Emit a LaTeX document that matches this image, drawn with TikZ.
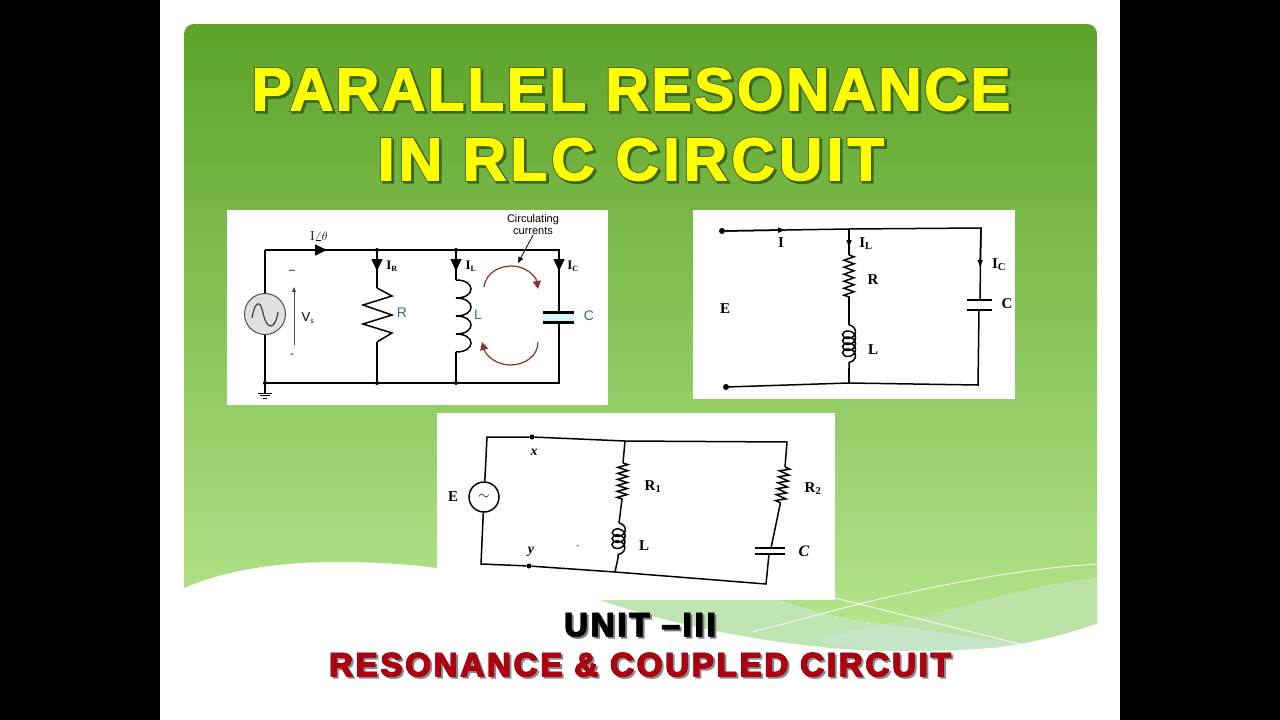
\documentclass[tikz,border=0pt]{standalone}
\usepackage{fontspec}
\usetikzlibrary{arrows.meta,decorations.pathmorphing,calc}
\newfontfamily\labelsans{Liberation Sans}
\newfontfamily\tagserif{Liberation Serif}
\newfontface\headface[FakeBold=2.5]{Liberation Sans Bold}
\newfontface\headedge[FakeBold=5]{Liberation Sans Bold}
\newfontface\subface[LetterSpace=8.5,FakeBold=3]{Liberation Sans Bold}
\newfontface\subedge[LetterSpace=8.5,FakeBold=4]{Liberation Sans Bold}
\definecolor{panelTop}{HTML}{5DA329}
\definecolor{panelMid}{HTML}{80B958}
\definecolor{panelEnd}{HTML}{B4E48A}
\definecolor{paleA}{HTML}{BFE5B3}
\definecolor{paleB}{HTML}{BBE3A8}
\definecolor{paleC}{HTML}{C6E6C8}
\definecolor{partBlue}{HTML}{2F6F9F}
\definecolor{turnRed}{HTML}{8B2E2E}
\definecolor{headYellow}{HTML}{FFFF00}
\definecolor{headEdge}{HTML}{3D5A10}
\definecolor{headShade}{HTML}{3A6A1E}
\definecolor{topicRed}{HTML}{B00010}
\definecolor{topicEdge}{HTML}{5A0008}
\newcommand{\layertext}[8]{%
  \node[anchor=base,text=#5] (#1s) at ($(#2)+(2,2)$) {#4#8};
  \node[anchor=base,text=#6] (#1e) at (#2) {#4#8};
  \node[anchor=base,text=#7] (#1) at (#2) {#3#8};
}
\tikzset{
  wire/.style={draw=black,line width=1.5pt},
  flow/.style={wire,-{Triangle[length=12,width=11]}},
  smallflow/.style={wire,-{Triangle[length=7,width=5]}},
  zig/.style={wire,decorate,decoration={zigzag,segment length=#1}},
  zig/.default=7,
  loops/.style={wire,decorate,decoration={coil,aspect=0.8,segment length=6,amplitude=6.5}},
  plate/.style={draw=black,line width=1.5pt},
  term/.style={circle,fill=black,inner sep=0pt,minimum size=6},
  part/.style={text=partBlue,font=\labelsans\fontsize{14}{14}\selectfont},
  tag/.style={font=\tagserif\fontsize{15}{15}\selectfont\bfseries},
  flowtag/.style={font=\tagserif\fontsize{13}{13}\selectfont\bfseries},
  turn/.style={draw=turnRed,line width=1.2pt,-{Triangle[length=8,width=8]}},
  photo/.style={fill=white,draw=none}
}
\begin{document}
\begin{tikzpicture}[x=1pt,y=-1pt]
  \useasboundingbox (0,0) rectangle (1280,720);
  \fill[white] (0,0) rectangle (1280,720);
  \fill[black] (0,0) rectangle (160,720);
  \fill[black] (1120,0) rectangle (1280,720);
  % green panel
  \shade[top color=panelTop,middle color=panelMid,bottom color=panelEnd,rounded corners=10]
    (184,588) -- (184,24) -- (1097,24) [sharp corners] -- (1097,578)
    .. controls (1000,590) and (930,620) .. (883,624)
    .. controls (850,622) and (810,610) .. (777,600)
    -- (700,590) -- (437,568)
    .. controls (400,563) and (365,562) .. (333,562)
    .. controls (280,562) and (225,570) .. (184,588) -- cycle;
  \fill[paleA] (600,600) .. controls (680,628) and (800,651) .. (900,651)
    .. controls (970,651) and (1050,640) .. (1097,623) -- (1097,578)
    .. controls (1000,590) and (930,620) .. (883,624)
    .. controls (850,622) and (810,610) .. (777,600) -- cycle;
  \fill[paleB] (883,624) -- (1020,644) .. controls (1050,638) and (1075,632) .. (1097,623)
    -- (1097,578) .. controls (1000,590) and (930,620) .. (883,624) -- cycle;
  \fill[paleC] (883,624) -- (1020,644) .. controls (990,650) and (940,651) .. (900,651)
    .. controls (870,651) and (840,646) .. (813,640) -- cycle;
  \draw[white,line width=0.8pt] (752,632) -- (863,603) .. controls (950,582) and (1030,568) .. (1097,564);
  \draw[white,line width=0.8pt] (835,598) -- (1020,644);
  % headings
  \coordinate (headA) at (631,110);
  \coordinate (headB) at (631,180);
  \coordinate (unitA) at (640,636);
  \coordinate (unitB) at (640,676);
  \layertext{titleA}{headA}{\headface\addfontfeature{LetterSpace=4.5}\fontsize{60}{60}\selectfont}{\headedge\addfontfeature{LetterSpace=4.5}\fontsize{60}{60}\selectfont}{headShade}{headEdge}{headYellow}{PARALLEL RESONANCE}
  \layertext{titleB}{headB}{\headface\addfontfeature{LetterSpace=7}\fontsize{60}{60}\selectfont}{\headedge\addfontfeature{LetterSpace=7}\fontsize{60}{60}\selectfont}{headShade}{headEdge}{headYellow}{IN RLC CIRCUIT}
  \layertext{unit}{unitA}{\subface\fontsize{33}{33}\selectfont}{\subedge\fontsize{33}{33}\selectfont}{black!50}{black}{black}{UNIT –III}
  \layertext{topic}{unitB}{\subface\fontsize{33}{33}\selectfont}{\subedge\fontsize{33}{33}\selectfont}{black!45}{topicEdge}{topicRed}{RESONANCE \& COUPLED CIRCUIT}
  % photo frames
  \fill[photo] (227,210) rectangle (608,405);
  \fill[photo] (693,210) rectangle (1015,399);
  \fill[photo] (437,413) rectangle (835,600);
  % first circuit
  \coordinate (aTL) at (265,250);
  \coordinate (aTR) at (377,250);
  \coordinate (aTL2) at (456,250);
  \coordinate (aTC) at (559,250);
  \coordinate (aBL) at (265,383);
  \coordinate (aBR) at (377,383);
  \coordinate (aBL2) at (456,383);
  \coordinate (aBC) at (559,383);
  \coordinate (aGnd) at (265,393);
  \coordinate (aIs) at (327,250);
  \coordinate (aIR) at (377,271);
  \coordinate (aIL) at (456,271);
  \coordinate (aIC) at (559,271);
  \coordinate (aRt) at (377,288);
  \coordinate (aRb) at (377,342);
  \coordinate (aLt) at (456,280);
  \coordinate (aLb) at (456,352);
  \node[circle,draw=black!70,line width=1pt,fill=blue!8!black!12,minimum size=41,inner sep=0pt] (aVs) at (265,314) {};
  \draw[wire] (aTL) -- (aTC) -- (aBC) -- (aBL) -- (aVs) -- (aTL);
  \draw[wire] (aBL) -- (aGnd);
  \draw[wire,line width=1pt] (258,393) -- (272,393) (260,395.5) -- (270,395.5) (263,398) -- (267,398);
  \draw[black!75,line width=1.2pt] (252,318) .. controls (254,306) and (257,303) .. (259,304)
    .. controls (263,304) and (263,326) .. (271,326) .. controls (274,326) and (277,320) .. (278,312);
  \draw[flow] (aTL) -- (aIs);
  \draw[flow] (aTR) -- (aIR);
  \draw[flow] (aTL2) -- (aIL);
  \draw[flow] (aTC) -- (aIC);
  \draw[wire] (aTR) -- (aRt) (aRb) -- (aBR);
  \draw[wire] (aRt) -- (392,296) -- (363,305) -- (392,315) -- (363,324) -- (392,333) -- (aRb);
  \draw[wire] (aTL2) -- (aLt) (aLb) -- (aBL2);
  \draw[wire] (aLt) \foreach \i in {1,...,4} { .. controls +(20,0) and +(20,0) .. ++(0,18)};
  \fill[cyan!15] (543,312) rectangle (574,322);
  \draw[black,line width=3pt] (543,312) -- (574,312) (543,322) -- (574,322);
  \foreach \j in {aTR,aTL2,aBL,aBR,aBL2} \fill (\j) circle (2);
  \draw[black!70,line width=0.9pt,-{Triangle[length=5,width=4]}] (294,345) -- (294,287);
  \node[font=\fontsize{13}{13}\selectfont] (aAngle) at (319,236) {$\mathrm{I}\angle\theta$};
  \node[font=\labelsans\fontsize{11}{11}\selectfont] (aPlus) at (292,272) {–};
  \node[font=\labelsans\fontsize{11}{11}\selectfont] (aMinus) at (292,356) {-};
  \node[font=\labelsans\fontsize{13}{13}\selectfont] (aVb) at (308,318) {V\textsubscript{\fontsize{7}{7}\selectfont s}};
  \node[flowtag] (aRn) at (392,266) {I\textsubscript{\fontsize{8}{8}\selectfont R}};
  \node[flowtag] (aLn) at (471,266) {I\textsubscript{\fontsize{8}{8}\selectfont L}};
  \node[flowtag] (aCn) at (573,266) {I\textsubscript{\fontsize{8}{8}\selectfont C}};
  \node[part] (aR) at (402,313) {R};
  \node[part] (aL) at (478,315) {L};
  \node[part] (aC) at (589,316) {C};
  \node[align=center,inner sep=0pt,font=\labelsans\fontsize{11}{12}\selectfont] (aNote) at (533,225) {Circulating\\currents};
  \coordinate (aPt) at (518,263);
  \draw[black,line width=0.8pt,-{Triangle[length=6,width=5]}] (aNote.south) -- (aPt);
  \draw[turn] (484,287) .. controls (486,272) and (500,266) .. (512,266) .. controls (525,266) and (536,276) .. (538,289);
  \draw[turn] (538,342) .. controls (538,356) and (525,365) .. (510,365) .. controls (497,365) and (486,356) .. (482,342);
  % second circuit
  \node[term] (bA) at (722,231) {};
  \node[term] (bB) at (726,387) {};
  \coordinate (bTJ) at (849,229);
  \coordinate (bBJ) at (849,383);
  \coordinate (bTR) at (981,228);
  \coordinate (bBR) at (978,385);
  \coordinate (bIs) at (785,230);
  \coordinate (bIL) at (849,247);
  \coordinate (bIC) at (980,267);
  \coordinate (bRt) at (849,255);
  \coordinate (bRb) at (849,298);
  \coordinate (bLt) at (849,325);
  \coordinate (bLb) at (849,368);
  \coordinate (bCt) at (980,300);
  \coordinate (bCb) at (979,310);
  \draw[wire] (bA) -- (bTJ) -- (bTR) -- (bCt) (bCb) -- (bBR) -- (bBJ) -- (bB);
  \draw[wire] (bTJ) -- (bRt) (bRb) -- (bLt) (bLb) -- (bBJ);
  \draw[smallflow] (bA) -- (bIs);
  \draw[smallflow] (bTJ) -- (bIL);
  \draw[smallflow] (bTR) -- (bIC);
  \draw[zig=7,decoration={amplitude=5}] (bRt) -- (bRb);
  \draw[loops] (bLt) -- (bLb);
  \draw[plate] (967,300) -- (992,300) (967,310) -- (992,310);
  \node[tag] (bI) at (781,243) {I};
  \node[tag] (bILn) at (866,244) {I\textsubscript{L}};
  \node[tag] (bICn) at (999,265) {I\textsubscript{C}};
  \node[tag] (bR) at (873,280) {R};
  \node[tag] (bL) at (873,350) {L};
  \node[tag] (bC) at (1007,304) {C};
  \node[tag] (bE) at (725,309) {E};
  % third circuit
  \node[term,minimum size=5] (cX) at (532,437) {};
  \node[term,minimum size=5] (cY) at (529,566) {};
  \node[circle,draw=black,line width=1.5pt,minimum size=30,inner sep=0pt,font=\Large] (cE) at (484,497) {$\sim$};
  \coordinate (cTL) at (487,437);
  \coordinate (cBL) at (481,564);
  \coordinate (cTJ) at (625,441);
  \coordinate (cBJ) at (615,572);
  \coordinate (cTR) at (787,442);
  \coordinate (cBR) at (766,584);
  \coordinate (cRt) at (623,463);
  \coordinate (cRb) at (622,499);
  \coordinate (cLt) at (619,523);
  \coordinate (cLb) at (618,558);
  \coordinate (cPt) at (785,467);
  \coordinate (cPb) at (780,505);
  \coordinate (cCt) at (771,548);
  \coordinate (cCb) at (769,554);
  \draw[wire] (cE) -- (cTL) -- (cX) -- (cTJ) -- (cTR) -- (cPt);
  \draw[wire] (cE) -- (cBL) -- (cY) -- (cBJ) -- (cBR) -- (cCb);
  \draw[wire] (cPb) -- (cCt);
  \draw[wire] (cTJ) -- (cRt) (cRb) -- (cLt) (cLb) -- (cBJ);
  \draw[zig=6,decoration={amplitude=5}] (cRt) -- (cRb);
  \draw[zig=6,decoration={amplitude=5}] (cPt) -- (cPb);
  \draw[loops] (cLt) -- (cLb);
  \draw[plate] (755,548) -- (785,548) (755,554) -- (785,554);
  \node[tag] (cEn) at (453,497) {E};
  \node[tag,font=\tagserif\fontsize{14}{14}\selectfont\bfseries\itshape] (cXn) at (534,452) {x};
  \node[tag,font=\tagserif\fontsize{14}{14}\selectfont\bfseries\itshape] (cYn) at (531,552) {y};
  \node[tag] (cR1) at (653,487) {R\textsubscript{1}};
  \node[tag] (cR2) at (813,489) {R\textsubscript{2}};
  \node[tag] (cLn) at (644,546) {L};
  \node[tag,font=\tagserif\fontsize{16}{16}\selectfont\bfseries\itshape] (cCn) at (804,551) {C};
  \node[font=\fontsize{10}{10}\selectfont] (cDash) at (578,547) {-};
\end{tikzpicture}
\end{document}
